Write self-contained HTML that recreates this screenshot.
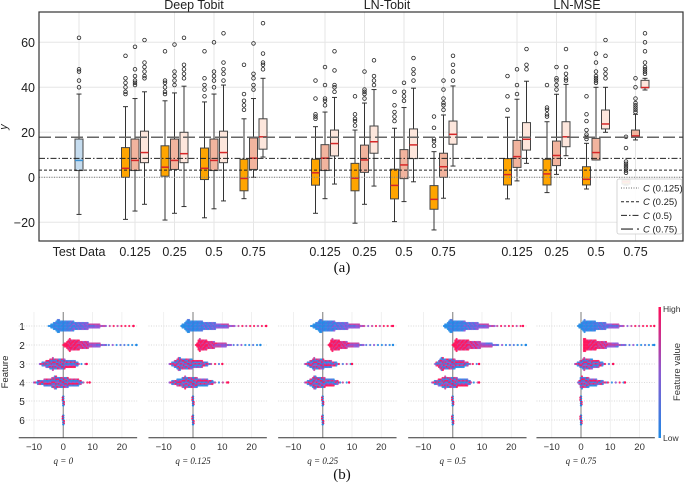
<!DOCTYPE html>
<html><head><meta charset="utf-8">
<style>
html,body{margin:0;padding:0;background:#fff;}
svg{display:block;font-family:"Liberation Sans",Arial,sans-serif;}
</style></head>
<body>
<svg id="fig" width="685" height="486" viewBox="0 0 685 486" xmlns="http://www.w3.org/2000/svg">
<defs>
<linearGradient id="cbar" x1="0" y1="1" x2="0" y2="0">
<stop offset="0" stop-color="#1E88E5"/><stop offset="0.5" stop-color="#8a5ad0"/><stop offset="1" stop-color="#FF0D57"/>
</linearGradient>
</defs>
<g id="topchart"></g>
<g id="bottom"></g>
</svg>
<script>
// ---------- TOP CHART DATA ----------
const categories = ["Test Data","0.125","0.25","0.5","0.75","0.125","0.25","0.5","0.75","0.125","0.25","0.5","0.75"];
const groupTitles = ["Deep Tobit","LN-Tobit","LN-MSE"];
const yTicks = [-20,0,20,40,60];
const cLevels = [0,3.2,8.4,17.8];
const cLabels = ["0.125","0.25","0.5","0.75"];
// each: [lo, q1, med, q3, hi]
const testBox = [-16.5,3,7.5,17,37];
const testOut = [40,43,47,48,62];
const orangeBoxes = [
 [-18.7,0,4,13.2,31.4],[-19,0.5,4.5,14,34],[-18,-1,4,13,33.5],[-9.5,-6,-0.5,8,26],
 [-16,-3.5,2,8,22.5],[-20.4,-6,-0.4,6.2,21],[-19.7,-9.6,-3.6,3.6,21.8],[-23.4,-14.2,-9.8,-3.7,11.4],
 [-9.6,-3.4,1.2,8.3,26.7],[-6.8,-3.4,1.5,8,24.7],[-5.2,-3.4,-0.9,4.7,15.1],[-3.5,-3,-2,-1.2,-1]];
const orangeOut = [[37,38,40,42,44,54],[37,38,40,42,43,56],[36,39,41,44,56],[30,32,34,37,50],
 [26,27,28,35,43],[23,25,26,28,36],[25,27,29,32,38],[14,16,17,22,27],
 [30,36,45],[27,28,30,31,41],[17,18,19,21,25,28,36],[2,3,4,5,6,7,13,18]];
const salmonBoxes = [
 [-15,3,7.5,17,35],[-16,3.5,7.5,17,37.5],[-14,3,7.5,17,37],[0,3.5,8.5,17.5,35],
 [-9.5,3,8.5,14.5,29],[-12,2.2,7.7,14.3,33],[-10.8,-0.6,5.5,12.3,31],[-9.3,0,4.7,10.7,27.7],
 [-1.6,4.4,9.2,16.4,34.7],[1.3,5.2,9.7,16.1,36.9],[7.7,7.7,11,17.3,40],[16.6,18,18.4,21,28]];
const salmonOut = [[41,42,43,45,48,58],[41,43,45,47,59],[40,43,45,47,60],[39,41,44,46,59.5],
 [32,34,35,41,49],[35,37,38,39,47],[34,36,38,42],[30,32,33,35,39,43],
 [37,41,48],[39,41,43,44,49],[42,43,44,45,47,51,55],[29,30,31,32,33,35,40,44]];
const pinkBoxes = [
 [-12,6.5,11,20.5,38],[-13,6.5,10.5,20,40.5],[-10.5,6.5,11,20.5,41],[9,12.5,18,26,44],
 [-3,9.5,15,21,35.5],[-3.9,10.7,15.8,22.8,39],[-2,8.3,14.4,21.5,39.6],[5,14.7,19.1,25,40.6],
 [6.2,12.1,16.9,24.3,42.7],[9.6,13.6,18,24.7,41.3],[20,21.5,23.7,29.9,40],[38.8,39.8,39.9,43.1,44]];
const pinkOut = [[44,45,47,49,51,61],[44,46,48,50,62],[43,46,48,51,64],[48,50,51,55,68.5],
 [38,40,41,47.5,56],[41,43,45,52],[43,46,48,53],[43,47,50,54],
 [48,50,57],[43,44,46,49,57],[44,46,48,54,61],[46,47,48,49,51,56,60,64]];

// ---------- BOTTOM DATA ----------
const panelLabels = ["q = 0","q = 0.125","q = 0.25","q = 0.5","q = 0.75"];
const shapTicks = [-10,0,10,20];
const featureNames = ["1","2","3","4","5","6"];
// per panel, per feature: [min, coreLo, coreHi, max]
const shapRanges = [
 [[-5,-2,8,24],[0,2,8,25],[-8,-4,4,8],[-10,-3,5,9],[0,0,0,0],[0,0,0,0]],
 [[-4,-2,7,25],[1,2,7,23],[-8,-5,3,10],[-8,-3,5,12],[0,0,0,0],[0,0,0,0]],
 [[-4,-1,8,24],[2,3,8,24],[-6,-3,3,10],[-6,-3,4,9],[0,0,0,0],[0,0,0,0]],
 [[-3,-1,8,24],[0,1,9,25],[-6,-4,4,9],[-7,-3,5,9],[0,0,0,0],[0,0,0,0]],
 [[-1,1,8,25],[1,1,8,25],[-2,1,6,11],[-1,0,5,15],[0,0,0,0],[0,0,0,0]]];

const NS="http://www.w3.org/2000/svg";
function mk(parent,tag,attrs,text){const e=document.createElementNS(NS,tag);for(const k in attrs)e.setAttribute(k,attrs[k]);if(text!==undefined)e.textContent=text;parent.appendChild(e);return e;}

// ---------- TOP ----------
const topG=document.getElementById('topchart');
const PL=39,PR=683,PT=12,PB=241;
const yS=v=>177.3-2.25*v;
const groupStart=[135,325,517];
function xPos(i){return i===0?79:groupStart[Math.floor((i-1)/4)]+((i-1)%4)*39.5;}
mk(topG,'rect',{x:PL,y:PT,width:PR-PL,height:PB-PT,fill:'#fff',stroke:'none'});
yTicks.forEach(t=>{
 const g=mk(topG,'line',{x1:PL,x2:PR,y1:yS(t),y2:yS(t),stroke:'#e6e6e6','stroke-width':1});
 
 
 const l=mk(topG,'text',{x:PL-4,y:yS(t)+4.5,'text-anchor':'end','font-size':12.5,fill:'#222'},t===0?'0':(t<0?'−'+(-t):t));
 
 
});
categories.forEach((c,i)=>{
 const g=mk(topG,'line',{x1:xPos(i),x2:xPos(i),y1:PT,y2:PB,stroke:'#e6e6e6','stroke-width':1});
 
 
 const l=mk(topG,'text',{x:xPos(i),y:256,'text-anchor':'middle','font-size':12.5,fill:'#222'},c);
 
 
});
const yt=mk(topG,'text',{x:7,y:127,'text-anchor':'middle','font-size':11,'font-style':'italic',fill:'#222',transform:'rotate(-90 7 127)'},'y');


[194,387,577].forEach((x,i)=>{const t=mk(topG,'text',{x:x,y:9,'text-anchor':'middle','font-size':12.5,fill:'#222'},groupTitles[i]);
 
 });

function drawBox(x,b,outs,fill,medCol,name){
 const g=mk(topG,'g',{});
 
 
 const w=8;
 mk(g,'line',{x1:x,x2:x,y1:yS(b[0]),y2:yS(b[1]),stroke:'#333','stroke-width':1});
 mk(g,'line',{x1:x,x2:x,y1:yS(b[3]),y2:yS(b[4]),stroke:'#333','stroke-width':1});
 mk(g,'line',{x1:x-2.5,x2:x+2.5,y1:yS(b[0]),y2:yS(b[0]),stroke:'#333','stroke-width':1});
 mk(g,'line',{x1:x-2.5,x2:x+2.5,y1:yS(b[4]),y2:yS(b[4]),stroke:'#333','stroke-width':1});
 mk(g,'rect',{x:x-w/2,y:yS(b[3]),width:w,height:Math.max(1,yS(b[1])-yS(b[3])),fill:fill,stroke:'#444','stroke-width':1});
 mk(g,'line',{x1:x-w/2,x2:x+w/2,y1:yS(b[2]),y2:yS(b[2]),stroke:medCol,'stroke-width':1.5});
 outs.forEach(o=>mk(g,'circle',{cx:x,cy:yS(o),r:1.8,fill:'none',stroke:'#222','stroke-width':0.8}));
}
drawBox(xPos(0),testBox,testOut,'#c5dcef','#3a8fd0','box-test-data');
for(let i=0;i<12;i++){
 const x=xPos(i+1);
 drawBox(x-9.5,orangeBoxes[i],orangeOut[i],'#FFA500','#d62728','box-orange');
 drawBox(x,salmonBoxes[i],salmonOut[i],'#f2b49e','#d62728','box-salmon');
 drawBox(x+9.5,pinkBoxes[i],pinkOut[i],'#fde6dc','#d62728','box-pink');
}
const cStyles=[{s:'#888',d:'1 1.5',w:1.2},{s:'#222',d:'3 2',w:1},{s:'#222',d:'6 2 1.5 2',w:1},{s:'#666',d:'12 4',w:1.6}];
cLevels.forEach((v,i)=>{const l=mk(topG,'line',{x1:PL,x2:PR,y1:yS(v),y2:yS(v),stroke:cStyles[i].s,'stroke-dasharray':cStyles[i].d,'stroke-width':cStyles[i].w});
 
 });
mk(topG,'rect',{x:PL,y:PT,width:PR-PL,height:PB-PT,fill:'none',stroke:'#333','stroke-width':1.2});
// legend
const lg=mk(topG,'g',{});


mk(lg,'rect',{x:617,y:179,width:65,height:55,fill:'#fff','fill-opacity':0.9,stroke:'#ccc','stroke-width':0.8,rx:2});
cLabels.forEach((c,i)=>{const y=188+i*13.7;
 const e=mk(lg,'g',{});
 
 
 mk(e,'line',{x1:621,x2:639,y1:y,y2:y,stroke:cStyles[i].s,'stroke-dasharray':cStyles[i].d,'stroke-width':cStyles[i].w});
 const t=mk(e,'text',{x:643,y:y+3.5,'font-size':9.5,fill:'#222'});
 mk(t,'tspan',{'font-style':'italic'},'C');mk(t,'tspan',{},' ('+c+')');
});
const la=mk(topG,'text',{x:342,y:272,'text-anchor':'middle','font-size':15,'font-family':'Liberation Serif, serif',fill:'#111'},'(a)');



// ---------- BOTTOM ----------
const bot=document.getElementById('bottom');
const zeroX=[63.3,193,322.7,452.7,581];
const pxU=2.93, rowY=[326,345,364,382.5,401,420], axisY=437.7;
const hot='#FF0D57',cold='#1E88E5',mid='#8e4fd6';
const colsAsc=[cold,'#4a6fe0',mid,'#c23ba0',hot];
const fl=mk(bot,'text',{x:8,y:372,'text-anchor':'middle','font-size':9.5,fill:'#222',transform:'rotate(-90 8 372)'},'Feature');


featureNames.forEach((f,r)=>{const t=mk(bot,'text',{x:22,y:rowY[r]+4,'text-anchor':'middle','font-size':10,fill:'#222'},f);
 
 });
panelLabels.forEach((pl,p)=>{
 const g=mk(bot,'g',{});
 
 
 const x0=zeroX[p], xs=v=>x0+v*pxU;
 const left=xs(-15.2), right=xs(25.2);
 shapTicks.forEach(t=>{mk(g,'line',{x1:xs(t),x2:xs(t),y1:312,y2:axisY,stroke:'#ececec','stroke-width':0.8});
  const l=mk(g,'text',{x:xs(t),y:450,'text-anchor':'middle','font-size':9.5,fill:'#333'},t<0?'−'+(-t):t);
  
  });
 rowY.forEach(y=>mk(g,'line',{x1:left,x2:right,y1:y,y2:y,stroke:'#ccc','stroke-dasharray':'1 1.5','stroke-width':0.7}));
 mk(g,'line',{x1:xs(0),x2:xs(0),y1:312,y2:axisY,stroke:'#999','stroke-width':1.3});
 shapRanges[p].forEach((rg,r)=>{
  const y=rowY[r];const mn=rg[0],cLo=rg[1],cHi=rg[2],mx=rg[3];
  if(mx-mn<0.01){
   for(let k=-4;k<=4;k++){mk(g,'circle',{cx:xs(0)+(k%2)*0.5,cy:y+k*1.1,r:1.2,fill:k%2?hot:cold});}
   return;
  }
  const step=1.3/pxU;
  let n=0,si=0;
  for(let v=mn;v<=mx;v+=step){
   si++;
   let h;
   if(v<cLo)h=4.5*(v-mn)/Math.max(0.1,cLo-mn);
   else if(v<=cHi)h=5.5-3*(v-cLo)/Math.max(0.1,cHi-cLo);
   else {h=Math.max(0,2.5*(1-(v-cHi)/Math.max(0.1,(mx-cHi)*0.4)));
     if(v>cHi+(mx-cHi)*0.4 && si%3!==0) continue;}
   const rows=Math.max(0,Math.round(h/1.5));
   for(let k=-rows;k<=rows;k++){
    n++;
    let t=(v-mn)/(mx-mn);
    if(r===1)t=1-t;
    if(r>=2)t=(n*7%5)/4;
    const ci=Math.min(4,Math.max(0,Math.round(t*5-0.5+((n%3)-1)*0.7)));
    mk(g,'circle',{cx:xs(v),cy:y+k*1.5,r:1.1,fill:colsAsc[ci],'fill-opacity':0.85});
   }
  }
  mk(g,'circle',{cx:xs(mx),cy:y,r:1.2,fill:r===1?cold:hot});
 });
 mk(g,'line',{x1:left,x2:right,y1:axisY,y2:axisY,stroke:'#333','stroke-width':1});
 const ql=mk(g,'text',{x:xs(0),y:464,'text-anchor':'middle','font-size':9,'font-style':'italic','font-family':'Liberation Serif, serif',fill:'#222'},pl);
 
 
});
const cb=mk(bot,'rect',{x:658.5,y:307,width:2.5,height:131,fill:'url(#cbar)'});


const hiLbl=mk(bot,'text',{x:663,y:312,'font-size':8.5,fill:'#333'},'High');


const loLbl=mk(bot,'text',{x:663,y:441,'font-size':8.5,fill:'#333'},'Low');


const fv=mk(bot,'text',{x:680,y:372,'text-anchor':'middle','font-size':9.5,fill:'#333',transform:'rotate(-90 680 372)'},'Feature value');


const lb=mk(bot,'text',{x:342,y:479,'text-anchor':'middle','font-size':15,'font-family':'Liberation Serif, serif',fill:'#111'},'(b)');


</script>
</body></html>
